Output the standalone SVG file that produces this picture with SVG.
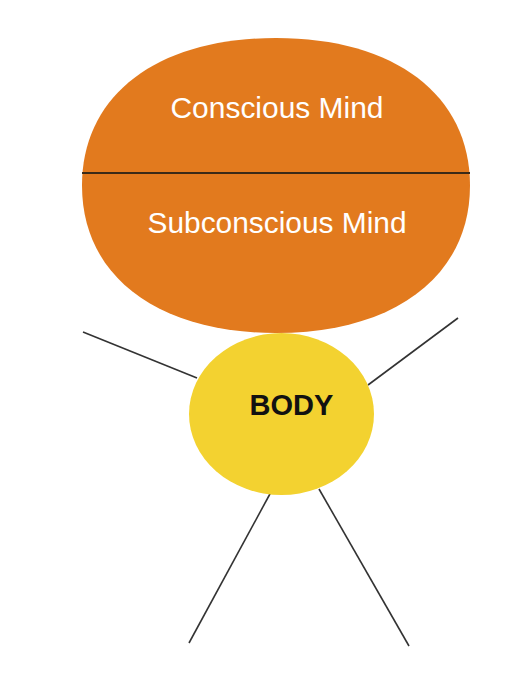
<svg xmlns="http://www.w3.org/2000/svg" width="508" height="685" viewBox="0 0 508 685">
<style>
.lbl{font-family:"Liberation Sans",Arial,sans-serif;font-size:29px;fill:#ffffff;text-anchor:middle}
.body{font-family:"Liberation Sans",Arial,sans-serif;font-size:29px;font-weight:bold;fill:#111111;text-anchor:middle}
.conn line{stroke:#333333;stroke-width:1.6}
</style>
<rect width="508" height="685" fill="#ffffff"/>
<g id="mind">
<path d="M470,185.5 C470,275.9 394.9,333 276,333 C157.1,333 82,275.9 82,185.5 C82,95.1 157.1,38 276,38 C394.9,38 470,95.1 470,185.5 Z" fill="#E27A1E"/>
<line x1="82" y1="173" x2="470" y2="173" stroke="#3a2a18" stroke-width="2"/>
<text class="lbl" x="277" y="118" textLength="213" lengthAdjust="spacingAndGlyphs">Conscious Mind</text>
<text class="lbl" x="277" y="233" textLength="259" lengthAdjust="spacingAndGlyphs">Subconscious Mind</text>
</g>
<g class="conn" id="connectors">
<line x1="83" y1="332" x2="197" y2="378"/>
<line x1="368" y1="385" x2="458" y2="318"/>
<line x1="271" y1="492" x2="189" y2="643"/>
<line x1="319" y1="489" x2="409" y2="646"/>
</g>
<g id="body">
<ellipse cx="281.5" cy="414" rx="92.5" ry="81" fill="#F3D230"/>
<text class="body" x="291.5" y="415">BODY</text>
</g>
</svg>
